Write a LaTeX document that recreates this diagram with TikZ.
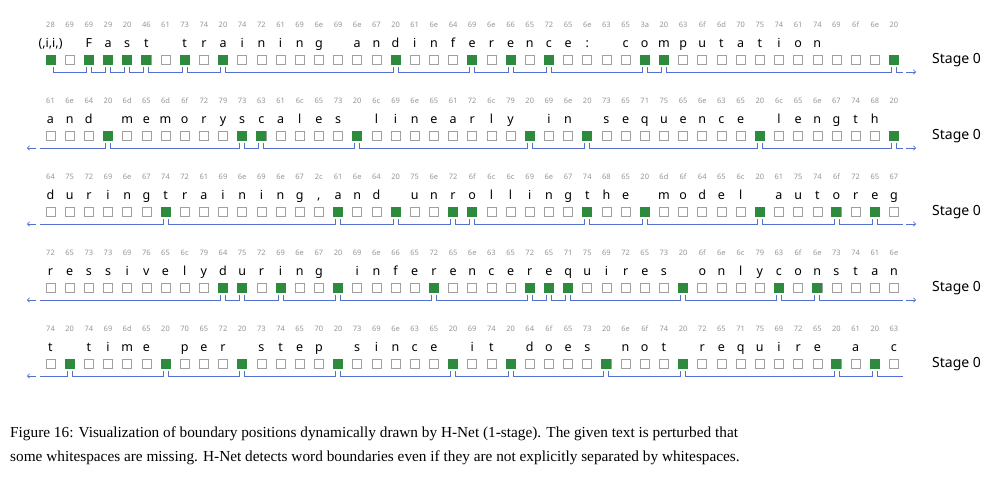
\documentclass[tikz,border=0pt]{standalone}
\usetikzlibrary{arrows.meta}
\usepackage{fontspec}
\setmainfont{Liberation Serif}
\newfontfamily\sansf{Noto Sans}
\definecolor{bgreen}{RGB}{46,139,62}
\definecolor{bblue}{RGB}{84,112,210}
\definecolor{hexgray}{RGB}{150,150,150}
\definecolor{boxgray}{RGB}{160,160,160}
\tikzset{
  hex/.style={font=\sansf\fontsize{7.5}{8}\selectfont,text=hexgray,anchor=base,inner sep=0pt},
  chr/.style={font=\sansf\fontsize{12.5}{13}\selectfont,anchor=base,inner sep=0pt},
  ebox/.style={draw=boxgray,fill=white,line width=0.6pt,minimum size=9pt,inner sep=0pt},
  gbox/.style={draw=none,fill=bgreen,minimum size=10pt,inner sep=0pt},
  seg/.style={draw=bblue,line width=0.9pt},
  stage/.style={font=\sansf\fontsize{14}{15}\selectfont,anchor=west,inner sep=0pt},
  captext/.style={font=\fontsize{15.3}{17}\selectfont,anchor=base west,inner sep=0pt},
}
% #1 row, #2 y, #3 hex, #4 chars, #5 greens, #6 first, #7 last, #8 arrow (1/0)
\newcommand\hrow[8]{%
  \foreach \h [count=\i from 0] in {#3}{
    \node[hex] (h-#1-\i) at ({50.5+19.17*\i},#2-33) {\h};
    \node[ebox] (b-#1-\i) at ({50.5+19.17*\i},#2) {};
  }
  \foreach \c [count=\i from 0] in {#4}{
    \node[chr] (c-#1-\i) at ({50.5+19.17*\i},#2-13) {\c};
  }
  \foreach \g in {#5}{ \node[gbox] (g-#1-\g) at (b-#1-\g) {}; }
  \foreach \g [remember=\g as \p (initially -1)] in {#5}{
    \ifnum\p>-1
      \draw[seg] ([shift={(2.5,7)}]b-#1-\p.center) -- ++(0,5) -| ([shift={(-2.5,7)}]b-#1-\g.center);
    \fi
  }
  \ifnum#6>0
    \coordinate (la-#1) at (27,#2+12);
    \coordinate (lb-#1) at (36,#2+12);
    \coordinate (lc-#1) at (40,#2+12);
    \draw[seg,line width=0.6pt,-{To[length=3pt,width=5pt]}] (lb-#1) -- (la-#1);
    \draw[seg] (lc-#1) -| ([shift={(-2.5,7)}]b-#1-#6.center);
  \fi
  \coordinate (te-#1) at (903,#2+12);
  \draw[seg] ([shift={(2.5,7)}]b-#1-#7.center) -- ++(0,5) -- (te-#1);
  \ifnum#8=1
    \coordinate (ta-#1) at (906,#2+12);
    \coordinate (tb-#1) at (916,#2+12);
    \draw[seg,line width=0.6pt,-{To[length=3pt,width=5pt]}] (ta-#1) -- (tb-#1);
  \fi
  \node[stage] (s-#1) at (932,#2) {Stage 0};
}
\begin{document}
\begin{tikzpicture}[x=1pt,y=-1pt]
\useasboundingbox (0,0) rectangle (1006,482);
\fill[white] (0,0) rectangle (1006,482);
\hrow{1}{60}{28,69,69,29,20,46,61,73,74,20,74,72,61,69,6e,69,6e,67,20,61,6e,64,69,6e,66,65,72,65,6e,63,65,3a,20,63,6f,6d,70,75,74,61,74,69,6f,6e,20}
{(,i,i,),{},F,a,s,t,{},t,r,a,i,n,i,n,g,{},a,n,d,i,n,f,e,r,e,n,c,e,:,{},c,o,m,p,u,t,a,t,i,o,n,{}}
{0,2,3,4,5,7,9,18,22,24,26,31,32,44}{0}{44}{1}
\hrow{2}{136}{61,6e,64,20,6d,65,6d,6f,72,79,73,63,61,6c,65,73,20,6c,69,6e,65,61,72,6c,79,20,69,6e,20,73,65,71,75,65,6e,63,65,20,6c,65,6e,67,74,68,20}
{a,n,d,{},m,e,m,o,r,y,s,c,a,l,e,s,{},l,i,n,e,a,r,l,y,{},i,n,{},s,e,q,u,e,n,c,e,{},l,e,n,g,t,h,{}}
{3,10,11,16,25,28,37,44}{3}{44}{1}
\hrow{3}{212}{64,75,72,69,6e,67,74,72,61,69,6e,69,6e,67,2c,61,6e,64,20,75,6e,72,6f,6c,6c,69,6e,67,74,68,65,20,6d,6f,64,65,6c,20,61,75,74,6f,72,65,67}
{d,u,r,i,n,g,t,r,a,i,n,i,n,g,{,},a,n,d,{},u,n,r,o,l,l,i,n,g,t,h,e,{},m,o,d,e,l,{},a,u,t,o,r,e,g}
{6,15,18,21,22,28,31,37,41,43}{6}{43}{1}
\hrow{4}{288}{72,65,73,73,69,76,65,6c,79,64,75,72,69,6e,67,20,69,6e,66,65,72,65,6e,63,65,72,65,71,75,69,72,65,73,20,6f,6e,6c,79,63,6f,6e,73,74,61,6e}
{r,e,s,s,i,v,e,l,y,d,u,r,i,n,g,{},i,n,f,e,r,e,n,c,e,r,e,q,u,i,r,e,s,{},o,n,l,y,c,o,n,s,t,a,n}
{9,10,12,15,20,25,26,27,33,38,40}{9}{40}{1}
\hrow{5}{364}{74,20,74,69,6d,65,20,70,65,72,20,73,74,65,70,20,73,69,6e,63,65,20,69,74,20,64,6f,65,73,20,6e,6f,74,20,72,65,71,75,69,72,65,20,61,20,63}
{t,{},t,i,m,e,{},p,e,r,{},s,t,e,p,{},s,i,n,c,e,{},i,t,{},d,o,e,s,{},n,o,t,{},r,e,q,u,i,r,e,{},a,{},c}
{1,6,10,15,21,24,29,33,41,43}{1}{43}{0}
\node[captext] (cap1) at (10,437) {Figure 16: Visualization of boundary positions dynamically drawn by H-Net (1-stage). The given text is perturbed that};
\node[captext] (cap2) at (10,461) {some whitespaces are missing. H-Net detects word boundaries even if they are not explicitly separated by whitespaces.};
\end{tikzpicture}
\end{document}
